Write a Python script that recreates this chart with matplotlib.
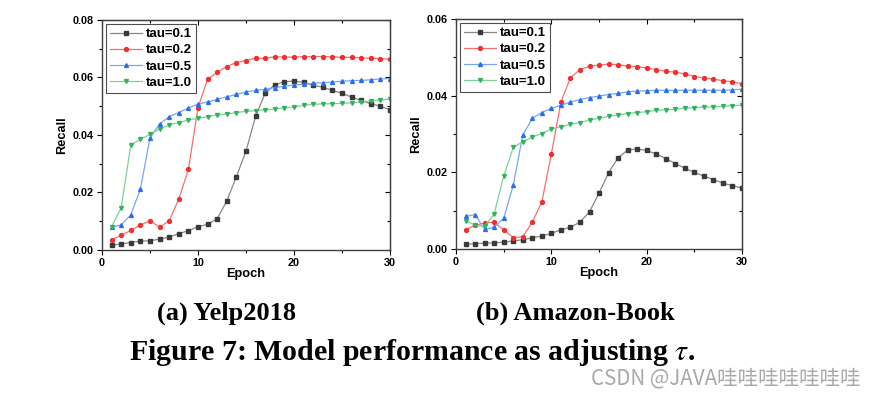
import matplotlib
matplotlib.use("Agg")
import matplotlib.pyplot as plt
from matplotlib.ticker import MultipleLocator

epochs = list(range(1, 31))
labels = ["tau=0.1", "tau=0.2", "tau=0.5", "tau=1.0"]

yelp_tau01 = [0.0017, 0.0021, 0.0026, 0.0031, 0.0032, 0.0038, 0.0045, 0.0057, 0.0067, 0.0081,
              0.0089, 0.0109, 0.0170, 0.0255, 0.0344, 0.0465, 0.0545, 0.0575, 0.0585, 0.0588,
              0.0583, 0.0573, 0.0566, 0.0555, 0.0545, 0.0532, 0.0520, 0.0509, 0.0500, 0.0488]
yelp_tau02 = [0.0035, 0.0051, 0.0068, 0.0087, 0.0102, 0.0079, 0.0102, 0.0177, 0.0280, 0.0495,
              0.0594, 0.0618, 0.0638, 0.0652, 0.0659, 0.0667, 0.0667, 0.0672, 0.0671, 0.0671,
              0.0672, 0.0673, 0.0673, 0.0672, 0.0670, 0.0670, 0.0668, 0.0667, 0.0666, 0.0663]
yelp_tau05 = [0.0080, 0.0087, 0.0122, 0.0212, 0.0390, 0.0438, 0.0464, 0.0478, 0.0494, 0.0507,
              0.0515, 0.0524, 0.0533, 0.0541, 0.0550, 0.0555, 0.0559, 0.0565, 0.0569, 0.0574,
              0.0576, 0.0580, 0.0582, 0.0584, 0.0587, 0.0589, 0.0590, 0.0592, 0.0595, 0.0596]
yelp_tau10 = [0.0081, 0.0147, 0.0365, 0.0385, 0.0402, 0.0421, 0.0435, 0.0443, 0.0452, 0.0458,
              0.0464, 0.0470, 0.0473, 0.0478, 0.0482, 0.0485, 0.0488, 0.0490, 0.0495, 0.0497,
              0.0503, 0.0507, 0.0508, 0.0509, 0.0510, 0.0512, 0.0515, 0.0518, 0.0522, 0.0525]

book_tau01 = [0.0012, 0.0014, 0.0015, 0.0016, 0.0018, 0.0021, 0.0024, 0.0029, 0.0034, 0.0041,
              0.0050, 0.0057, 0.0070, 0.0097, 0.0146, 0.0199, 0.0238, 0.0258, 0.0261, 0.0257,
              0.0248, 0.0236, 0.0223, 0.0211, 0.0200, 0.0190, 0.0181, 0.0172, 0.0165, 0.0159]
book_tau02 = [0.0050, 0.0062, 0.0068, 0.0070, 0.0050, 0.0030, 0.0032, 0.0070, 0.0123, 0.0248,
              0.0383, 0.0447, 0.0468, 0.0477, 0.0480, 0.0482, 0.0481, 0.0477, 0.0476, 0.0472,
              0.0468, 0.0464, 0.0461, 0.0457, 0.0450, 0.0447, 0.0443, 0.0439, 0.0436, 0.0431]
book_tau05 = [0.0085, 0.0090, 0.0051, 0.0057, 0.0080, 0.0166, 0.0297, 0.0341, 0.0356, 0.0367,
              0.0375, 0.0383, 0.0390, 0.0395, 0.0399, 0.0403, 0.0406, 0.0410, 0.0412, 0.0413,
              0.0414, 0.0414, 0.0414, 0.0414, 0.0414, 0.0414, 0.0414, 0.0414, 0.0415, 0.0417]
book_tau10 = [0.0074, 0.0062, 0.0059, 0.0092, 0.0190, 0.0265, 0.0280, 0.0292, 0.0301, 0.0313,
              0.0319, 0.0325, 0.0330, 0.0336, 0.0341, 0.0346, 0.0350, 0.0353, 0.0356, 0.0358,
              0.0362, 0.0363, 0.0365, 0.0367, 0.0369, 0.0370, 0.0371, 0.0372, 0.0374, 0.0375]

subcaptions = ["(a) Yelp2018", "(b) Amazon-Book"]
caption = "Figure 7: Model performance as adjusting $\\tau$."
watermark = "CSDN @JAVA哇哇哇哇哇哇哇"

colors = ["#3a3a3a", "#f03030", "#2a6ee8", "#2fb45a"]
line_colors = ["#888888", "#f77070", "#79a6f0", "#7fd09a"]
markers = ["s", "o", "^", "v"]

plt.rcParams["font.family"] = ["Liberation Sans", "DejaVu Sans"]
plt.rcParams["mathtext.fontset"] = "stix"

fig = plt.figure(figsize=(8.77, 3.95), dpi=100)
ax1 = fig.add_axes([0.1163, 0.3671, 0.3284, 0.5823])
ax2 = fig.add_axes([0.5200, 0.3696, 0.3261, 0.5823])

def draw(ax, series, ymax):
    for s, lab, c, lc, m in zip(series, labels, colors, line_colors, markers):
        ax.plot(epochs, s, color=lc, lw=0.9, marker=m, markersize=2.8,
                markerfacecolor=c, markeredgecolor=c, label=lab)
    ax.set_xlim(0, 30)
    ax.set_ylim(0, ymax)
    ax.xaxis.set_major_locator(MultipleLocator(10))
    ax.xaxis.set_minor_locator(MultipleLocator(5))
    ax.yaxis.set_major_locator(MultipleLocator(0.02))
    ax.yaxis.set_minor_locator(MultipleLocator(0.01))
    ax.yaxis.set_major_formatter(matplotlib.ticker.FormatStrFormatter("%.2f"))
    ax.tick_params(which="both", direction="out", top=False, right=False,
                   labelsize=7.8, width=0.8, pad=2.5)
    ax.tick_params(which="major", length=3.5)
    ax.tick_params(which="minor", length=2)
    for lbl in ax.get_xticklabels() + ax.get_yticklabels():
        lbl.set_fontweight("bold")
    sec_x = ax.secondary_xaxis("top")
    sec_x.xaxis.set_major_locator(MultipleLocator(10))
    sec_x.xaxis.set_minor_locator(MultipleLocator(5))
    sec_x.tick_params(which="both", direction="in", labeltop=False, width=0.8)
    sec_x.tick_params(which="major", length=3.5)
    sec_x.tick_params(which="minor", length=2)
    sec_y = ax.secondary_yaxis("right")
    sec_y.yaxis.set_major_locator(MultipleLocator(0.02))
    sec_y.yaxis.set_minor_locator(MultipleLocator(0.01))
    sec_y.tick_params(which="both", direction="in", labelright=False, width=0.8)
    sec_y.tick_params(which="major", length=3.5)
    sec_y.tick_params(which="minor", length=2)
    for sp in ax.spines.values():
        sp.set_linewidth(1.0)
        sp.set_color("#404040")
    ax.set_xlabel("Epoch", fontsize=9.2, fontweight="bold", labelpad=0)
    ax.set_ylabel("Recall", fontsize=9.2, fontweight="bold", labelpad=3)
    leg = ax.legend(loc="upper left", prop={"weight": "bold", "size": 9.5},
                    frameon=True, fancybox=False, edgecolor="#222222",
                    handlelength=2.4, handletextpad=0.35, labelspacing=0.3,
                    borderpad=0.3, borderaxespad=0.3)
    leg.get_frame().set_linewidth(0.8)

draw(ax1, [yelp_tau01, yelp_tau02, yelp_tau05, yelp_tau10], 0.08)
draw(ax2, [book_tau01, book_tau02, book_tau05, book_tau10], 0.06)

serif = ["Liberation Serif", "DejaVu Serif"]
fig.text(0.258, 0.207, subcaptions[0], ha="center", va="center",
         fontsize=19, fontweight="bold", family=serif)
fig.text(0.656, 0.207, subcaptions[1], ha="center", va="center",
         fontsize=19, fontweight="bold", family=serif)
fig.text(0.470, 0.107, caption, ha="center", va="center",
         fontsize=21.5, fontweight="bold", family=serif)
fig.text(0.981, 0.043, watermark, ha="right", va="center", fontsize=14.8,
         color="#a8a8a8", family=["Noto Sans CJK SC", "DejaVu Sans"])

fig.savefig("out.png", dpi=100)
